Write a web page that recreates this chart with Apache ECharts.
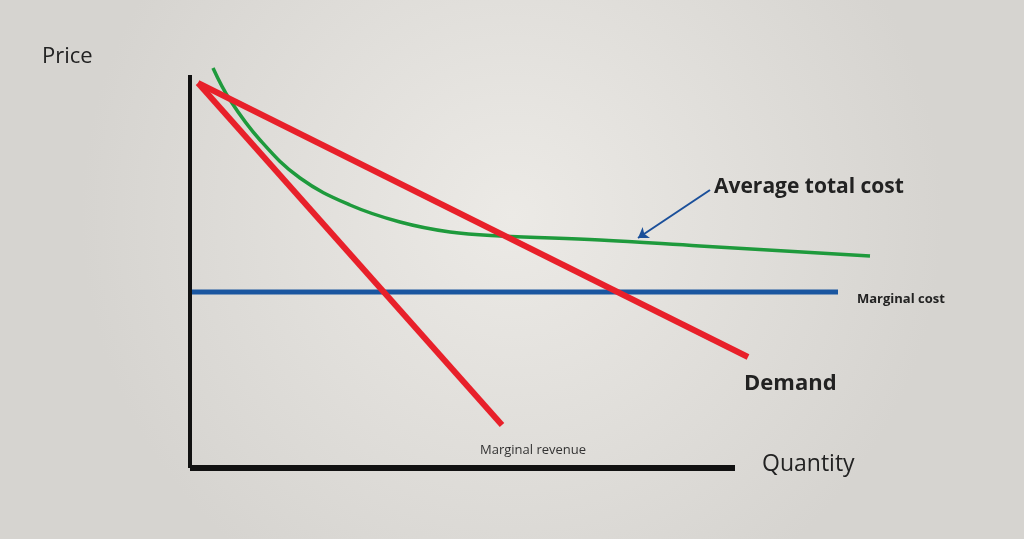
<!DOCTYPE html>
<html>
<head>
<meta charset="utf-8">
<script src="https://cdn.jsdelivr.net/npm/echarts@6/dist/echarts.min.js"></script>
<style>html,body{margin:0;padding:0;background:#e4e2de;}#c{width:1024px;height:539px;}</style>
</head>
<body>
<div id="c"></div>
<script>
// values (quantity, price)
var demand = [[8, 385], [558, 111]];
var marginalRevenue = [[8, 385], [312, 43]];
var marginalCost = [[2, 176], [648, 176]];
var averageTotalCost = [[23, 400], [40, 368], [70, 328], [110, 290], [160, 263], [210, 246], [260, 236], [310, 232], [410, 228], [510, 222], [680, 212]];
var xAxisLine = [[0, 0], [545, 0]];
var yAxisLine = [[0, 0], [0, 393]];

var myChart = echarts.init(document.getElementById('c'));
var font = '"Open Sans", "Liberation Sans", sans-serif';
var option = {
	backgroundColor: {
		type: 'radial', x: 0.5, y: 0.4, r: 0.8,
		colorStops: [{offset: 0, color: '#eceae6'}, {offset: 1, color: '#d6d4d0'}]
	},
	animation: false,
	grid: {left: 190, top: 68, width: 700, height: 400},
	xAxis: {type: 'value', min: 0, max: 700, show: false},
	yAxis: {type: 'value', min: 0, max: 400, show: false},
	series: [
		{type: 'line', data: yAxisLine, symbol: 'none', lineStyle: {color: '#111', width: 4}},
		{type: 'line', data: xAxisLine, symbol: 'none', lineStyle: {color: '#111', width: 6}},
		{type: 'line', data: marginalCost, symbol: 'none', lineStyle: {color: '#1a56a0', width: 5}},
		{type: 'line', data: averageTotalCost, smooth: 0.4, symbol: 'none', lineStyle: {color: '#1e9a3c', width: 3.5}},
		{type: 'line', data: demand, symbol: 'none', lineStyle: {color: '#e8202a', width: 6}},
		{type: 'line', data: marginalRevenue, symbol: 'none', lineStyle: {color: '#e8202a', width: 6},
			markLine: {
				silent: true, symbol: ['none', 'arrow'], symbolSize: 10,
				lineStyle: {color: '#1a4f9a', width: 2, type: 'solid'}, label: {show: false},
				data: [[{coord: [520, 278]}, {coord: [448, 230]}]]
			}
		}
	],
	graphic: [
		{type: 'text', left: 42, top: 46, style: {text: 'Price', font: '22px ' + font, fill: '#222'}},
		{type: 'text', left: 714, top: 177, style: {text: 'Average total cost', font: 'bold 21px ' + font, fill: '#222'}},
		{type: 'text', left: 857, top: 293, style: {text: 'Marginal cost', font: 'bold 13px ' + font, fill: '#222'}},
		{type: 'text', left: 744, top: 373, style: {text: 'Demand', font: 'bold 22px ' + font, fill: '#222'}},
		{type: 'text', left: 480, top: 444, style: {text: 'Marginal revenue', font: '13px ' + font, fill: '#333'}},
		{type: 'text', left: 762, top: 453, style: {text: 'Quantity', font: '23px ' + font, fill: '#222'}}
	]
};
myChart.setOption(option);
</script>
</body>
</html>
